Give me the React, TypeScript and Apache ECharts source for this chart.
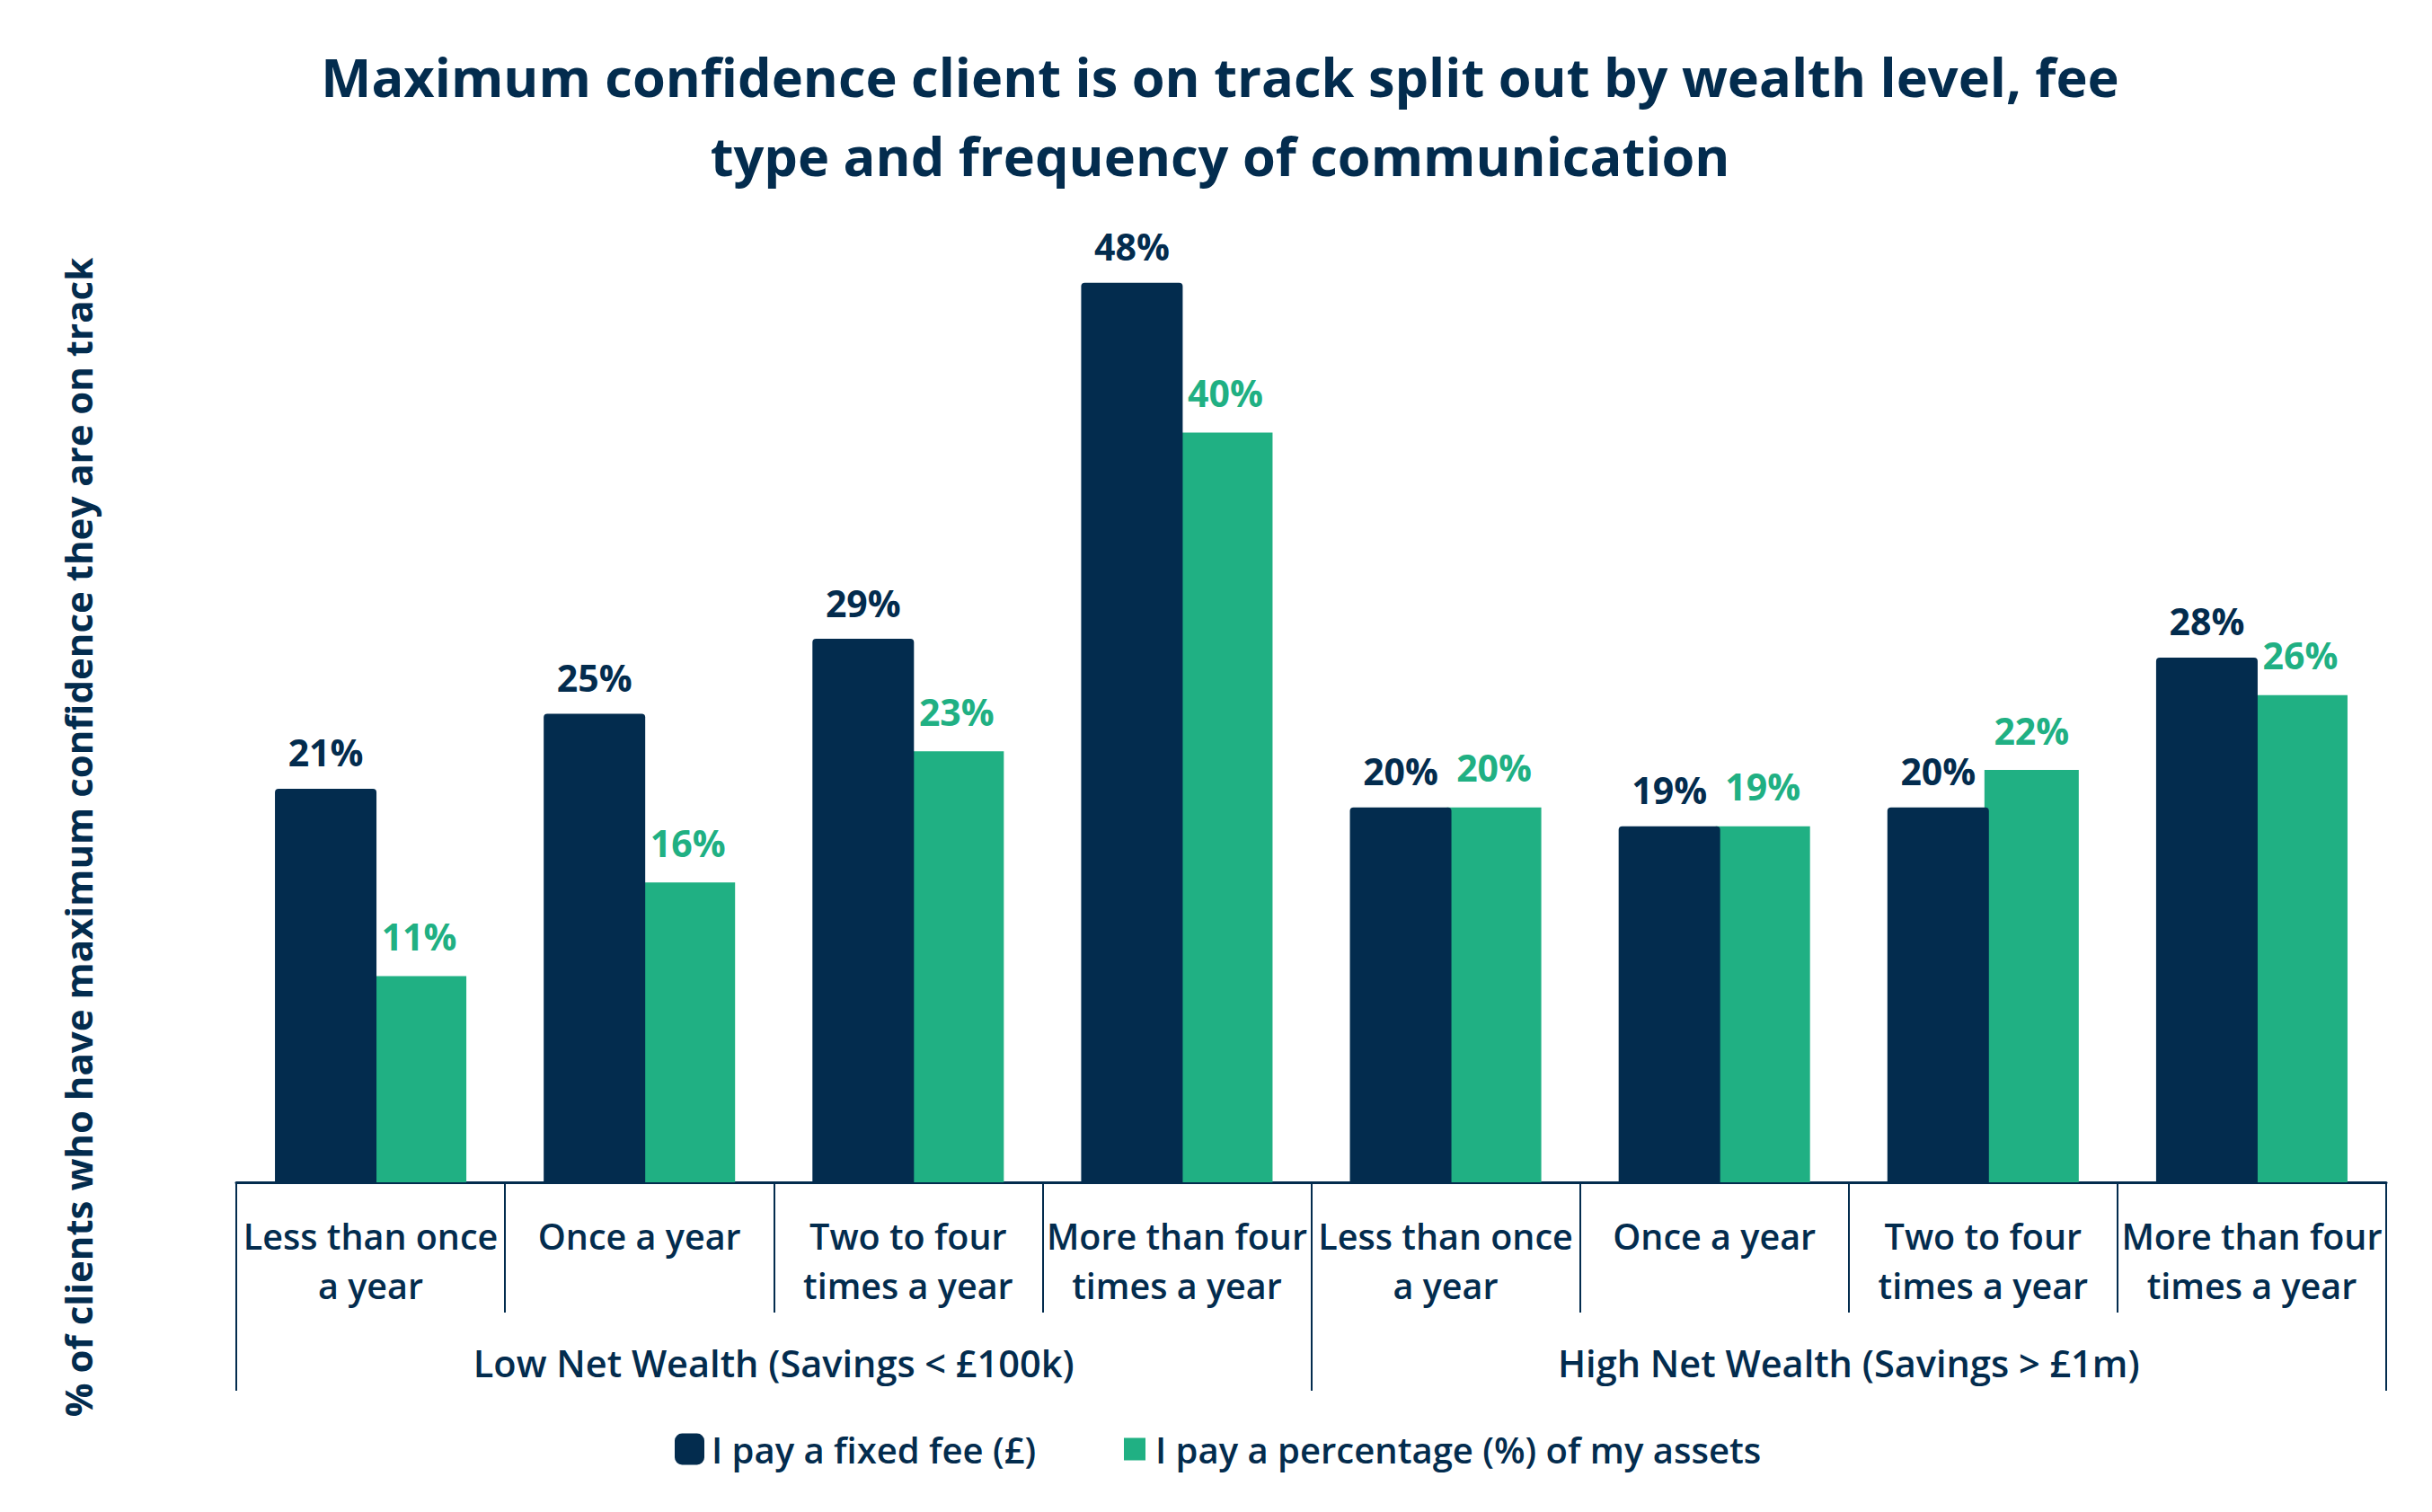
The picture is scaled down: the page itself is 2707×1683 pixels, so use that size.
import React, { useEffect, useRef } from "react";
import * as echarts from "echarts";

const categories = [
  "Less than once\na year",
  "Once a year",
  "Two to four\ntimes a year",
  "More than four\ntimes a year",
  "Less than once\na year",
  "Once a year",
  "Two to four\ntimes a year",
  "More than four\ntimes a year",
];
const groups = ["Low Net Wealth (Savings < £100k)", "High Net Wealth (Savings > £1m)"];
const fixedFee = [21, 25, 29, 48, 20, 19, 20, 28];
const percentageFee = [11, 16, 23, 40, 20, 19, 22, 26];
const seriesNames = ["I pay a fixed fee (£)", "I pay a percentage (%) of my assets"];

const NAVY = "#032c4e";
const GREEN = "#20b083";
const FONT = "Open Sans";

export default function App() {
  const ref = useRef<HTMLDivElement>(null);

  useEffect(() => {
    document.body.style.margin = "0";
    const chart = echarts.init(ref.current!, null, { renderer: "svg" });
    chart.setOption({
      animation: false,
      backgroundColor: "#ffffff",
      textStyle: { fontFamily: FONT },
      title: {
        text: "Maximum confidence client is on track split out by wealth level, fee\ntype and frequency of communication",
        left: 1353,
        top: 35,
        textAlign: "center",
        textStyle: {
          fontFamily: FONT,
          fontSize: 59.5,
          fontWeight: "bold",
          color: NAVY,
          lineHeight: 88,
        },
      },
      legend: [
        {
          data: [seriesNames[0]],
          left: 751,
          top: 1593,
          padding: 0,
          itemWidth: 33,
          itemHeight: 35,
          icon: "roundRect",
          textStyle: {
            fontFamily: FONT,
            fontSize: 40,
            lineHeight: 40,
            fontWeight: 600,
            color: NAVY,
            padding: [0, 0, 0, 3],
          },
        },
        {
          data: [seriesNames[1]],
          left: 1251,
          top: 1593,
          padding: 0,
          itemWidth: 24,
          itemHeight: 25,
          icon: "rect",
          textStyle: {
            fontFamily: FONT,
            fontSize: 40,
            lineHeight: 40,
            fontWeight: 600,
            color: NAVY,
            padding: [0, 0, 0, 6],
          },
        },
      ],
      grid: { left: 263, right: 51, top: 273, bottom: 367, containLabel: false },
      xAxis: [
        {
          type: "category",
          data: categories,
          position: "bottom",
          axisLine: { show: true, lineStyle: { color: NAVY, width: 3 } },
          axisTick: { show: true, alignWithLabel: false, length: 145, lineStyle: { color: NAVY, width: 2 } },
          axisLabel: {
            interval: 0,
            margin: 32,
            fontFamily: FONT,
            fontSize: 39.5,
            fontWeight: 600,
            lineHeight: 55,
            color: NAVY,
            verticalAlign: "top",
          },
        },
        {
          type: "category",
          data: groups,
          position: "bottom",
          axisLine: { show: false },
          axisTick: { show: true, length: 232, lineStyle: { color: NAVY, width: 2 } },
          axisLabel: {
            interval: 0,
            margin: 201,
            fontFamily: FONT,
            fontSize: 41.5,
            fontWeight: 600,
            color: NAVY,
            verticalAlign: "middle",
          },
        },
      ],
      yAxis: {
        type: "value",
        min: 0,
        max: 50,
        axisLine: { show: false },
        axisTick: { show: false },
        axisLabel: { show: false },
        splitLine: { show: false },
      },
      graphic: [
        {
          type: "text",
          x: 86,
          y: 932,
          rotation: Math.PI / 2,
          style: {
            text: "% of clients who have maximum confidence they are on track",
            fontFamily: FONT,
            fontSize: 42,
            fontWeight: "bold",
            fill: NAVY,
            textAlign: "center",
            textVerticalAlign: "middle",
          },
        },
      ],
      series: [
        {
          name: seriesNames[0],
          type: "bar",
          xAxisIndex: 0,
          data: fixedFee,
          barWidth: 113,
          barGap: "-4.4%",
          z: 3,
          itemStyle: { color: NAVY, borderRadius: [4, 4, 0, 0] },
          label: {
            show: true,
            position: "top",
            distance: 20,
            formatter: "{c}%",
            fontFamily: FONT,
            fontSize: 41,
            fontWeight: "bold",
            color: NAVY,
          },
        },
        {
          name: seriesNames[1],
          type: "bar",
          xAxisIndex: 0,
          data: percentageFee,
          barWidth: 105,
          z: 2,
          itemStyle: { color: GREEN },
          label: {
            show: true,
            position: "top",
            distance: 24,
            formatter: "{c}%",
            fontFamily: FONT,
            fontSize: 41,
            fontWeight: "bold",
            color: GREEN,
          },
        },
      ],
    });
    return () => chart.dispose();
  }, []);

  return <div ref={ref} style={{ width: 2707, height: 1683 }} />;
}
